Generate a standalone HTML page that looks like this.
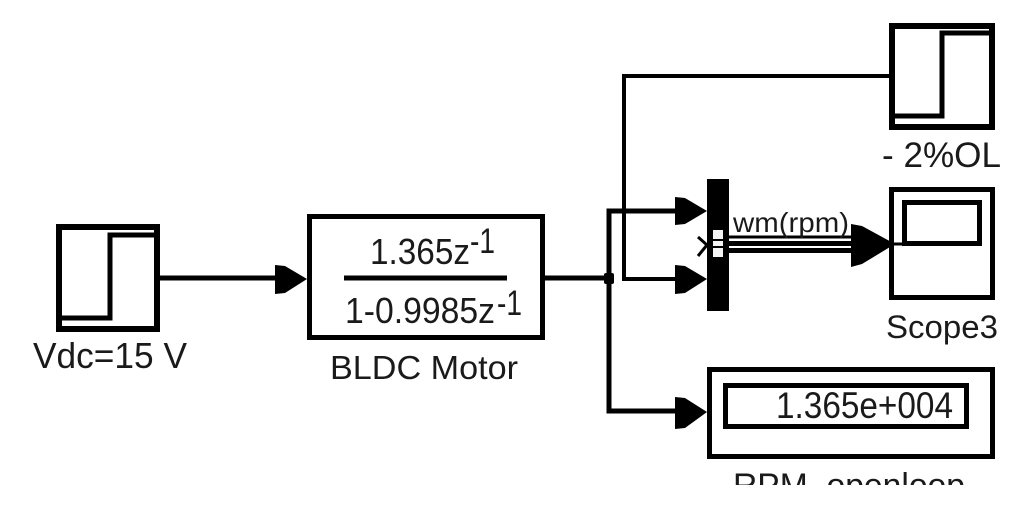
<!DOCTYPE html>
<html>
<head>
<meta charset="utf-8">
<style>
html,body{margin:0;padding:0;background:#fff;width:1018px;height:510px;overflow:hidden}
svg{display:block}
text{font-family:"Liberation Sans",sans-serif;fill:#1a1a1a}
</style>
</head>
<body>
<svg width="1018" height="510" viewBox="0 0 1018 510" xmlns="http://www.w3.org/2000/svg">
<rect width="1018" height="510" fill="#fff"/>
<g fill="none" stroke="#000" shape-rendering="crispEdges">
  <!-- Vdc step -->
  <rect x="59" y="227" width="98" height="102" stroke-width="6"/>
  <path d="M62 318H110V235H155" stroke-width="5"/>
  <!-- -2%OL step -->
  <rect x="892" y="26" width="100" height="101" stroke-width="6"/>
  <path d="M893 116H942V33H990" stroke-width="5"/>
  <!-- Motor -->
  <rect x="309.500" y="216.500" width="233" height="121" stroke-width="5"/>
  <path d="M344 278H507" stroke-width="5"/>
  <!-- Scope -->
  <rect x="891.500" y="189.500" width="101" height="108" stroke-width="5"/>
  <rect x="904.500" y="202.500" width="75" height="41" stroke-width="5"/>
  <!-- Display -->
  <rect x="709.500" y="369.500" width="283" height="87" stroke-width="5"/>
  <rect x="725.500" y="385.500" width="241" height="41" stroke-width="5"/>
  <!-- Wires -->
  <path d="M160 278H285" stroke-width="5"/>
  <path d="M545 278H609" stroke-width="5"/>
  <path d="M680 211H609V411H680" stroke-width="5"/>
  <path d="M890 76H624V279H680" stroke-width="4"/>
  <path d="M729 237H860" stroke-width="3"/>
  <path d="M729 243.500H860" stroke-width="5"/>
  <path d="M729 250.500H860" stroke-width="5"/>
  <path d="M890 244H902" stroke-width="3"/>
</g>
<!-- Junction -->
<rect x="604" y="273" width="10" height="11" rx="2" fill="#000"/>
<!-- Mux -->
<rect x="707" y="179" width="22" height="132" fill="#000"/>
<rect x="713" y="230" width="10" height="9" fill="#f4f4f4"/>
<rect x="713" y="241" width="10" height="5" fill="#f4f4f4"/>
<rect x="713" y="248" width="10" height="9" fill="#f4f4f4"/>
<path d="M698 237L707 245L698 256" fill="none" stroke="#000" stroke-width="3"/>
<!-- Arrowheads -->
<g fill="#000">
  <path d="M275 265L285 266L307 279L285 293L275 294Z"/>
  <path d="M675 197L685 198L707 211L685 224L675 225Z"/>
  <path d="M675 265L685 266L707 279L685 293L675 294Z"/>
  <path d="M675 397L685 398L707 412L685 428L675 429Z"/>
  <path d="M851 224L862 226L895 244L862 264L851 267Z"/>
</g>
<!-- Labels -->
<text x="370" y="264" font-size="36" textLength="100" lengthAdjust="spacingAndGlyphs">1.365z</text>
<text x="470" y="253" font-size="35" textLength="25" lengthAdjust="spacingAndGlyphs">-1</text>
<text x="345" y="323" font-size="36" textLength="150" lengthAdjust="spacingAndGlyphs">1-0.9985z</text>
<text x="497" y="315" font-size="35" textLength="25" lengthAdjust="spacingAndGlyphs">-1</text>
<text x="33" y="368" font-size="36" textLength="154" lengthAdjust="spacingAndGlyphs">Vdc=15 V</text>
<text x="330" y="379" font-size="33" textLength="188" lengthAdjust="spacingAndGlyphs">BLDC Motor</text>
<text x="882" y="167" font-size="35" textLength="119" lengthAdjust="spacingAndGlyphs">- 2%OL</text>
<text x="886" y="338" font-size="32" textLength="112" lengthAdjust="spacingAndGlyphs">Scope3</text>
<text x="733" y="232" font-size="28" textLength="116" lengthAdjust="spacingAndGlyphs">wm(rpm)</text>
<text x="776" y="418" font-size="37" textLength="177" lengthAdjust="spacingAndGlyphs">1.365e+004</text>
<text x="733" y="497" font-size="34" textLength="232" lengthAdjust="spacingAndGlyphs">RPM_openloop</text>
<rect x="700" y="485" width="318" height="25" fill="#fff"/>
</svg>
</body>
</html>
